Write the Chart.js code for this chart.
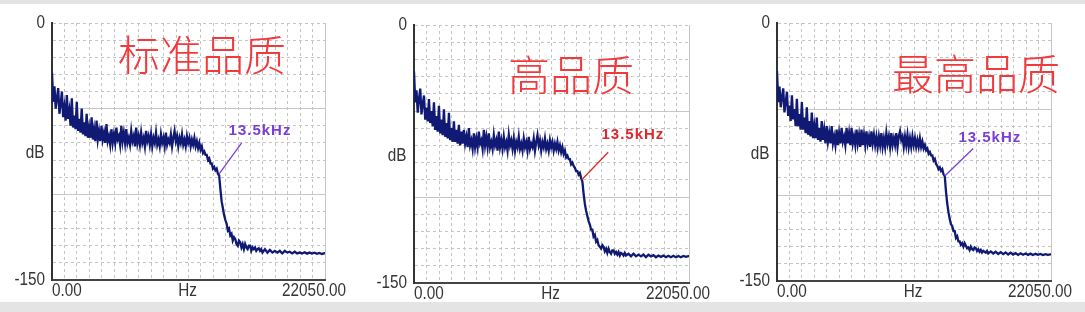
<!DOCTYPE html>
<html>
<head>
<meta charset="utf-8">
<script src="https://cdn.jsdelivr.net/npm/chart.js"></script>
<style>
  body { margin: 0; width: 1085px; height: 312px; background: #e4e4e4; overflow: hidden; position: relative; }
  .sheet { position: absolute; left: 0; top: 4px; width: 1085px; height: 298px; background: #fff; }
  .panel { position: absolute; top: 4px; }
  .title { position: absolute; font-family: "Noto Sans CJK SC", sans-serif; font-weight: 300; font-size: 42px;
           line-height: 1; color: #f2393c; white-space: nowrap; transform: translate(-50%, -50%); }
</style>
</head>
<body>
<div class="sheet"></div>
<div class="panel" style="left:0px"><canvas id="c1" width="357" height="298"></canvas></div>
<div class="panel" style="left:360px"><canvas id="c2" width="360" height="298"></canvas></div>
<div class="panel" style="left:723px"><canvas id="c3" width="362" height="298"></canvas></div>
<div class="title" style="left:202px;top:53px">标准品质</div>
<div class="title" style="left:571px;top:73px">高品质</div>
<div class="title" style="left:976px;top:72px">最高品质</div>
<script>
// frequency bins (Hz)
var freqHz = [
  0,100,200,300,400,500,600,700,800,900,
  1000,1100,1200,1300,1400,1500,1600,1700,1800,1900,
  2000,2100,2200,2300,2400,2500,2600,2700,2800,2900,
  3000,3100,3200,3300,3400,3500,3600,3700,3800,3900,
  4000,4100,4200,4300,4400,4500,4600,4700,4800,4900,
  5000,5100,5200,5300,5400,5500,5600,5700,5800,5900,
  6000,6100,6200,6300,6400,6500,6600,6700,6800,6900,
  7000,7100,7200,7300,7400,7500,7600,7700,7800,7900,
  8000,8100,8200,8300,8400,8500,8600,8700,8800,8900,
  9000,9100,9200,9300,9400,9500,9600,9700,9800,9900,
  10000,10100,10200,10300,10400,10500,10600,10700,10800,10900,
  11000,11100,11200,11300,11400,11500,11600,11700,11800,11900,
  12000,12100,12200,12300,12400,12500,12600,12700,12800,12900,
  13000,13100,13200,13300,13400,13500,13600,13700,13800,13900,
  14000,14100,14200,14300,14400,14500,14600,14700,14800,14900,
  15000,15100,15200,15300,15400,15500,15600,15700,15800,15900,
  16000,16100,16200,16300,16400,16500,16600,16700,16800,16900,
  17000,17200,17400,17600,17800,18000,18200,18400,18600,18800,
  19000,19200,19400,19600,19800,20000,20200,20400,20600,20800,
  21000,21200,21400,21600,21800,22000,
  22050
];

// 标准品质 (dB)
var dbStandard = [
  -29,-46,-37,-50,-44,-38,-53,-47,-40,-55,
  -49,-57,-42,-56,-51,-60,-44,-61,-54,-62,
  -46,-63,-56,-64,-50,-65,-58,-66,-53,-67,
  -61,-67,-55,-68,-62,-69,-57,-68,-63,-69,
  -60,-68,-64,-70,-59,-69,-66,-71,-62,-70,
  -65,-70,-61,-68,-66,-71,-60,-69,-64,-70,
  -62,-70,-67,-71,-63,-69,-66,-72,-61,-70,
  -66,-71,-64,-70,-67,-72,-63,-69,-66,-71,
  -65,-72,-67,-70,-64,-71,-68,-72,-65,-70,
  -67,-72,-64,-71,-68,-70,-65,-72,-67,-63,
  -69,-66,-72,-67,-70,-65,-71,-68,-72,-66,
  -70,-67,-72,-68,-71,-67,-72,-69,-73,-70,
  -74,-72,-76,-75,-77,-77,-80,-79,-82,-82,
  -85,-84,-86,-85,-88,-89,-97,-104,-108,-112,
  -115,-117,-121,-120,-124,-123,-127,-125,-126,-129,
  -130,-127,-128,-131,-129,-132,-129,-131,-132,-130,
  -130,-133,-131,-132,-131,-133,-132,-131.5,-133,-132,
  -134,-132,-134,-132.5,-134,-133,-134,-133,-134.5,-133,
  -134,-133.5,-134.5,-133.5,-134.5,-134,-134.5,-133.8,-134.6,-134,
  -134.6,-134.1,-134.7,-134.2,-134.8,-134.4,
  -134.5
];

// 高品质 (dB)
var dbHigh = [
  -27,-45,-38,-51,-43,-37,-52,-46,-41,-55,
  -48,-56,-43,-57,-50,-59,-45,-61,-53,-62,
  -47,-63,-55,-64,-49,-65,-57,-66,-51,-67,
  -60,-68,-56,-68,-61,-69,-58,-70,-62,-69,
  -61,-69,-65,-71,-60,-70,-67,-72,-63,-71,
  -66,-71,-62,-69,-67,-72,-61,-70,-65,-71,
  -63,-71,-68,-72,-64,-70,-67,-73,-62,-71,
  -67,-72,-65,-71,-68,-73,-64,-70,-67,-72,
  -66,-73,-68,-71,-65,-72,-69,-73,-66,-71,
  -68,-73,-65,-72,-69,-71,-66,-73,-68,-64,
  -70,-67,-73,-68,-71,-66,-72,-69,-73,-67,
  -71,-68,-73,-69,-72,-68,-73,-70,-74,-71,
  -75,-73,-77,-76,-78,-78,-81,-80,-82,-83,
  -85,-85,-87,-86,-89,-91,-98,-104,-108,-111,
  -114,-116,-119,-119,-123,-122,-126,-125,-128,-129,
  -130,-128,-129,-131.5,-130,-132.5,-130,-132,-133,-131,
  -131,-133,-132,-133.5,-132,-134,-132.5,-133,-134,-132.5,
  -134,-133,-134.5,-133,-134.5,-133.5,-134.5,-133.5,-135,-133.6,
  -134.6,-133.8,-135,-134,-134.8,-134,-135,-134.2,-135,-134.2,
  -135,-134.3,-135,-134.3,-134.8,-134.4,
  -134.4
];

// 最高品质 (dB)
var dbHighest = [
  -28,-46,-37,-49,-43,-38,-52,-46,-40,-54,
  -48,-57,-42,-56,-50,-60,-44,-60,-53,-62,
  -46,-62,-55,-64,-49,-65,-57,-66,-52,-67,
  -60,-67,-55,-68,-61,-69,-57,-68,-62,-70,
  -60,-69,-64,-70,-60,-70,-66,-71,-62,-71,
  -64,-70,-61,-69,-66,-71,-61,-70,-64,-71,
  -61,-70,-66,-71,-62,-70,-65,-72,-62,-71,
  -65,-71,-63,-70,-66,-72,-63,-70,-65,-71,
  -66,-72,-66,-71,-64,-72,-67,-72,-64,-70,
  -66,-72,-64,-71,-67,-71,-64,-72,-66,-63,
  -68,-66,-72,-66,-71,-65,-72,-67,-72,-66,
  -71,-67,-72,-68,-72,-67,-72,-69,-73,-71,
  -74,-73,-76,-75,-77,-77,-80,-79,-82,-83,
  -85,-84,-86,-85,-88,-89,-98,-105,-110,-114,
  -117,-118,-121,-121,-125,-124,-127,-127,-129,-128,
  -130,-128,-129.5,-131,-130.5,-132,-130,-131.5,-132,-130.5,
  -131,-132.5,-131.5,-133,-132,-133.5,-132.5,-133,-133.5,-132.5,
  -134,-132.8,-134,-133,-134.3,-133.2,-134.4,-133.4,-134.6,-133.5,
  -134.6,-133.8,-134.8,-133.9,-134.7,-134,-134.8,-134.1,-134.9,-134.2,
  -134.8,-134.3,-134.9,-134.4,-134.8,-134.5,
  -134.5
];

// axis labels
var yTickValues = [0, -150];
var yTickLabels = ['0', '-150'];
var xTickValues = [0, 22050];
var xTickLabels = ['0.00', '22050.00'];
var yAxisTitle = 'dB';
var xAxisTitle = 'Hz';

// 13.5kHz call-outs: point on the curve, end of the leader, label centre
var noteText = '13.5kHz';
var notePointHz = [13500, 13450, 13500];
var notePointDb = [-88, -90, -89];
var noteEndHz = [15320, 15570, 15790];
var noteEndDb = [-70, -74, -73];
var noteLabelHz = [16800, 17550, 17130];
var noteLabelDb = [-63, -64, -67];

// narrow-looking labels: Liberation Sans squeezed horizontally
function narrowText(ctx, text, x, y, align) {
  ctx.save();
  ctx.translate(x, y);
  ctx.scale(0.85, 1);
  ctx.textAlign = align;
  ctx.fillText(text, 0, 0);
  ctx.restore();
}

var axisText = {
  id: 'axisText',
  afterDraw: function(chart) {
    var ctx = chart.ctx, a = chart.chartArea, x = chart.scales.x, y = chart.scales.y;
    ctx.save();
    ctx.fillStyle = '#353535';
    ctx.font = '18px "Liberation Sans", Arial, sans-serif';
    ctx.textBaseline = 'middle';
    for (var i = 0; i < yTickValues.length; i++) {
      narrowText(ctx, yTickLabels[i], a.left - 7, y.getPixelForValue(yTickValues[i]), 'right');
    }
    narrowText(ctx, yAxisTitle, a.left - 17, y.getPixelForValue(-76), 'center');
    var by = a.bottom + 11;
    narrowText(ctx, xTickLabels[0], x.getPixelForValue(xTickValues[0]), by, 'left');
    narrowText(ctx, xAxisTitle, x.getPixelForValue(11025) - 1, by, 'center');
    narrowText(ctx, xTickLabels[1], x.getPixelForValue(xTickValues[1]) - 11, by, 'center');
    ctx.restore();
  }
};

var callout = {
  id: 'callout',
  afterDatasetsDraw: function(chart, args, opts) {
    var ctx = chart.ctx, x = chart.scales.x, y = chart.scales.y, k = opts.index;
    ctx.save();
    ctx.strokeStyle = opts.color;
    ctx.lineWidth = 1.3;
    ctx.beginPath();
    ctx.moveTo(x.getPixelForValue(notePointHz[k]), y.getPixelForValue(notePointDb[k]));
    ctx.lineTo(x.getPixelForValue(noteEndHz[k]), y.getPixelForValue(noteEndDb[k]));
    ctx.stroke();
    ctx.fillStyle = opts.color;
    ctx.font = 'bold 15px "Liberation Sans", Arial, sans-serif';
    ctx.letterSpacing = '1px';
    ctx.textAlign = 'center';
    ctx.textBaseline = 'middle';
    ctx.fillText(noteText, x.getPixelForValue(noteLabelHz[k]), y.getPixelForValue(noteLabelDb[k]));
    ctx.restore();
  }
};

function xMajor(c) { return c.tick && (c.tick.value % 5000 === 0 || c.tick.value === 22050); }
function yMajor(c) { return c.tick && c.tick.value !== 0 && c.tick.value % 50 === 0; }

function makeChart(id, values, pad, k, color) {
  return new Chart(id, {
    type: 'line',
    data: {
      datasets: [{
        data: freqHz.map(function(f, i) { return {x: f, y: values[i]}; }),
        borderColor: '#101a74',
        borderWidth: 2.3,
        pointRadius: 0,
        tension: 0
      }]
    },
    options: {
      responsive: false,
      animation: false,
      events: [],
      layout: {padding: pad},
      plugins: {
        legend: {display: false},
        tooltip: {enabled: false},
        callout: {index: k, color: color}
      },
      scales: {
        x: {
          type: 'linear', min: 0, max: 22050,
          ticks: {display: false, stepSize: 1000},
          grid: {drawTicks: false, lineWidth: 1,
                 color: function(c) { return xMajor(c) ? '#c6c6c6' : '#c4c4c4'; }},
          border: {color: '#444', width: 2,
                   dash: function(c) { return xMajor(c) || !c.tick ? [] : [3, 3]; }}
        },
        y: {
          min: -150, max: 0,
          ticks: {display: false, stepSize: 10},
          grid: {drawTicks: false, lineWidth: 1,
                 color: function(c) { return yMajor(c) ? '#c6c6c6' : '#c4c4c4'; }},
          border: {color: '#333', width: 2,
                   dash: function(c) { return yMajor(c) || !c.tick ? [] : [3, 3]; }}
        }
      }
    },
    plugins: [axisText, callout]
  });
}

makeChart('c1', dbStandard, {left: 52, top: 19, right: 32, bottom: 22}, 0, '#7b3fd6');
makeChart('c2', dbHigh, {left: 54, top: 21, right: 31, bottom: 19}, 1, '#e0282c');
makeChart('c3', dbHighest, {left: 54, top: 19, right: 34, bottom: 21}, 2, '#7b3fd6');
</script>
</body>
</html>
